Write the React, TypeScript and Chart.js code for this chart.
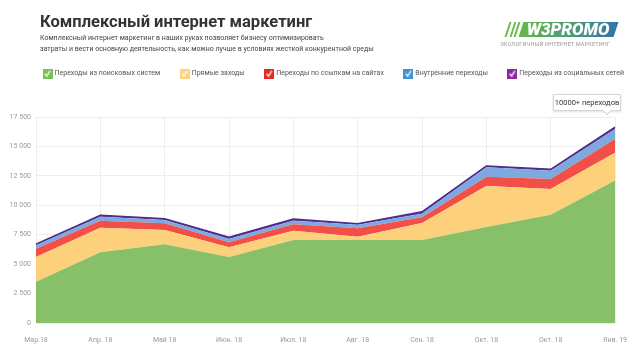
import React, { useEffect, useRef } from "react";
import { Chart, registerables } from "chart.js";

Chart.register(...registerables);

const categories = ["Мар.18", "Апр. 18", "Май 18", "Июн. 18", "Июл. 18", "Авг. 18", "Сен. 18", "Окт. 18", "Окт. 18", "Янв. 19"];
const seriesNames = [
  "Переходы из поисковых систем",
  "Прямые заходы",
  "Переходы по ссылкам на сайтах",
  "Внутренние переходы",
  "Переходы из социальных сетей",
];
const searchValues = [3500, 6000, 6700, 5600, 7050, 7050, 7050, 8150, 9200, 12100];
const directValues = [2100, 2100, 1200, 830, 790, 280, 1450, 3490, 2190, 2370];
const referralValues = [700, 590, 570, 430, 540, 710, 480, 790, 840, 1160];
const internalValues = [300, 340, 280, 280, 310, 310, 300, 800, 710, 830];
const socialValues = [100, 120, 110, 140, 150, 90, 170, 110, 120, 170];
const yTicks = [0, 2500, 5000, 7500, 10000, 12500, 15000, 17500];

const fillColors = ["#88c06a", "#fdd07c", "#f24f49", "#7caae0", "#6b3f9e"];
const legendColors = ["#79bf58", "#ffd27e", "#e52a22", "#4190d8", "#8b2a9f"];

function makeCheck(color: string) {
  const c = document.createElement("canvas");
  c.width = 10;
  c.height = 10;
  const ctx = c.getContext("2d")!;
  ctx.fillStyle = color;
  ctx.fillRect(0, 0, 10, 10);
  ctx.strokeStyle = "rgba(255,255,255,0.95)";
  ctx.lineWidth = 1.4;
  ctx.beginPath();
  ctx.moveTo(2.4, 5.2);
  ctx.lineTo(4.3, 7.6);
  ctx.lineTo(7.6, 2.4);
  ctx.stroke();
  return c;
}

function fmt(v: number) {
  const s = String(Math.round(v));
  return s.replace(/\B(?=(\d{3})+(?!\d))/g, " ");
}

export default function App() {
  const ref = useRef<HTMLCanvasElement | null>(null);

  useEffect(() => {
    if (!ref.current) return;
    const checks = legendColors.map(makeCheck);
    const seriesValues = [searchValues, directValues, referralValues, internalValues, socialValues];

    const legendFix = {
      id: "legendFix",
      beforeLayout(chart: any) {
        const lg = chart.legend;
        if (lg && !lg._patched) {
          lg._patched = true;
          const orig = lg.fit;
          lg.fit = function () {
            const mw = this.maxWidth;
            this.maxWidth = 2000;
            orig.call(this);
            this.maxWidth = mw;
            this.width = mw;
            this.height = 68;
          };
        }
      },
      afterLayout(chart: any) {
        const lg = chart.legend;
        if (lg) {
          lg.left = 23;
          lg.right = 2000;
        }
      },
    };

    const chart = new Chart(ref.current, {
      type: "line",
      data: {
        labels: categories,
        datasets: seriesValues.map((vals, i) => ({
          label: seriesNames[i],
          data: vals,
          backgroundColor: fillColors[i],
          borderColor: i === 4 ? "#4b2a88" : fillColors[i],
          borderWidth: i === 4 ? 1.5 : 0,
          fill: i === 0 ? "origin" : "-1",
          pointRadius: 0,
          tension: 0,
        })),
      },
      options: {
        responsive: false,
        animation: false,
        layout: { padding: { top: 49, right: 21, left: 0, bottom: 0 } },
        plugins: {
          tooltip: { enabled: false },
          legend: {
            position: "top",
            align: "start",
            labels: {
              usePointStyle: true,
              padding: 21,
              color: "#555",
              font: { family: "Roboto", size: 7 },
              generateLabels(ch: any) {
                const items = Chart.defaults.plugins.legend.labels.generateLabels(ch);
                return items.map((it: any, i: number) => ({ ...it, pointStyle: checks[i], hidden: false }));
              },
            },
          },
        },
        scales: {
          x: {
            offset: false,
            grid: { color: "#eeeeee", drawTicks: false },
            border: { display: false },
            ticks: {
              color: "#9a9a9a",
              font: { family: "Roboto", size: 7 },
              padding: 13,
              maxRotation: 0,
              autoSkip: false,
            },
            afterFit(scale: any) {
              scale.height = 37;
            },
          },
          y: {
            stacked: true,
            min: 0,
            max: 17500,
            grid: { color: "#eeeeee", drawTicks: false },
            border: { display: false },
            ticks: {
              stepSize: 2500,
              color: "#9a9a9a",
              font: { family: "Roboto", size: 7 },
              padding: 5,
              callback: (v: any) => (yTicks.includes(Number(v)) ? fmt(Number(v)) : ""),
            },
            afterFit(scale: any) {
              scale.width = 36;
            },
          },
        },
      },
      plugins: [legendFix],
    } as any);
    return () => chart.destroy();
  }, []);

  return (
    <div
      style={{
        position: "fixed",
        left: 0,
        top: 0,
        width: 640,
        height: 360,
        background: "#fff",
        overflow: "hidden",
        fontFamily: "Roboto, 'Noto Sans', sans-serif",
      }}
    >
      <canvas ref={ref} width={640} height={360} style={{ position: "absolute", left: 0, top: 0, width: 640, height: 360 }} />
      <div style={{ position: "absolute", left: 40, top: 12, fontSize: 16.5, fontWeight: 700, color: "#333", whiteSpace: "nowrap" }}>
        Комплексный интернет маркетинг
      </div>
      <div style={{ position: "absolute", left: 40, top: 33, fontSize: 7, lineHeight: "11px", color: "#444", whiteSpace: "nowrap" }}>
        Комплексный интернет маркетинг в наших руках позволяет бизнесу оптимизировать
        <br />
        затраты и вести основную деятельность, как можно лучше в условиях жесткой конкурентной среды
      </div>
      {/* logo */}
      {[0, 1, 2].map((k) => (
        <div
          key={k}
          style={{
            position: "absolute",
            left: 507 + k * 4.5,
            top: 22,
            width: 2,
            height: 15,
            background: "#6cb84a",
            transform: "skewX(-18deg)",
          }}
        />
      ))}
      <div
        style={{
          position: "absolute",
          left: 521,
          top: 22,
          width: 95,
          height: 15,
          background: "linear-gradient(to right, #66b64a, #4f9a78 55%, #3474a6)",
          transform: "skewX(-18deg)",
        }}
      />
      <div
        style={{
          position: "absolute",
          left: 523,
          top: 19,
          width: 90,
          fontSize: 17,
          lineHeight: "20px",
          fontWeight: 900,
          fontStyle: "italic",
          color: "#fff",
          textAlign: "center",
          whiteSpace: "nowrap",
        }}
      >
        W3PROMO
      </div>
      <div style={{ position: "absolute", left: 500, top: 41, fontSize: 5.6, color: "#9a9a9a", whiteSpace: "nowrap", letterSpacing: 0.1 }}>
        ЭКОЛОГИЧНЫЙ ИНТЕРНЕТ МАРКЕТИНГ
      </div>
      {/* callout */}
      <div
        style={{
          position: "absolute",
          left: 553,
          top: 94,
          width: 66,
          height: 15,
          border: "1px solid #cfd8d8",
          background: "#fff",
          fontSize: 7.5,
          lineHeight: "15px",
          color: "#333",
          textAlign: "center",
          whiteSpace: "nowrap",
          boxShadow: "0 1px 2px rgba(0,0,0,0.12)",
        }}
      >
        10000+ переходов
      </div>
      <div
        style={{
          position: "absolute",
          left: 604,
          top: 108,
          width: 5,
          height: 5,
          background: "#fff",
          borderRight: "1px solid #cfd8d8",
          borderBottom: "1px solid #cfd8d8",
          transform: "rotate(45deg)",
        }}
      />
    </div>
  );
}
